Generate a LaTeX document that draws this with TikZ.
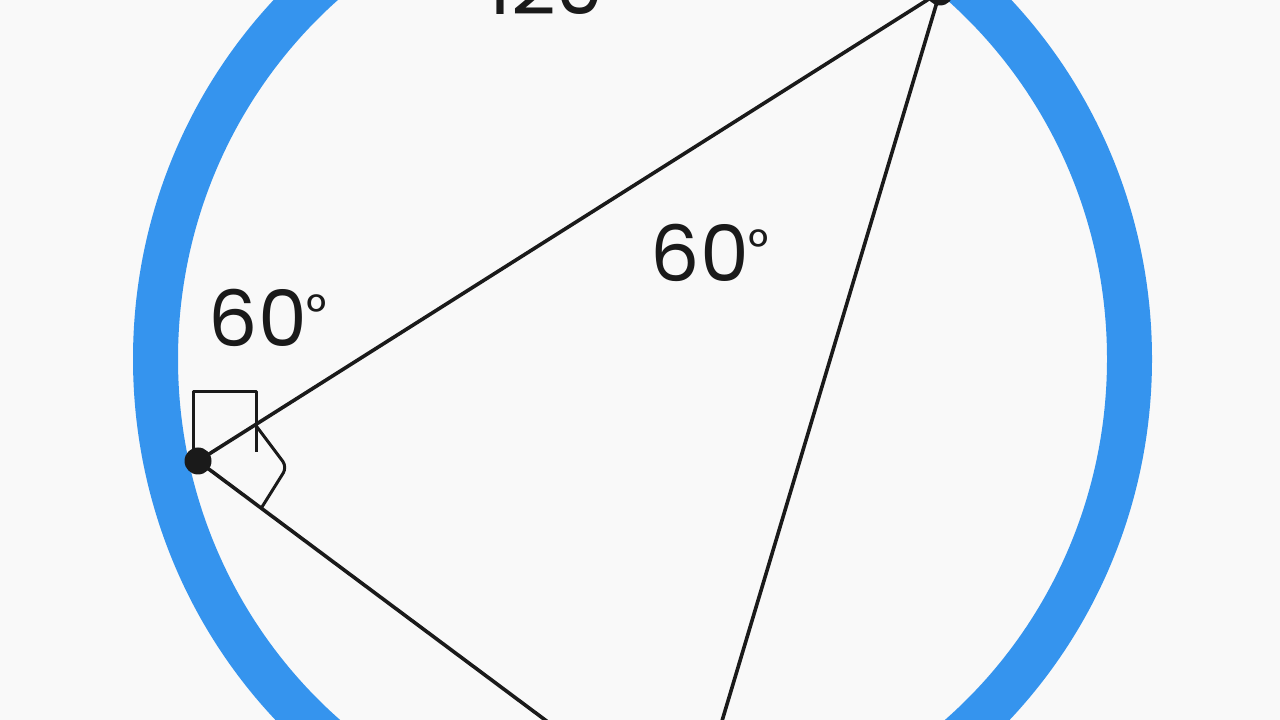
\documentclass[tikz,border=0pt]{standalone}
\usepackage{fontspec}
\setmainfont{Poppins}
\usepackage{tikz}
\usetikzlibrary{positioning}

\definecolor{ringblue}{RGB}{53,148,238}
\definecolor{paper}{RGB}{249,249,249}
\definecolor{ink}{RGB}{26,26,26}
\newcommand{\smalldeg}{\raisebox{17bp}{\fontsize{50}{50}\selectfont °}}

\begin{document}
\begin{tikzpicture}[line join=round,
  chord/.style={ink,line width=3.6bp},
  pt/.style={circle,fill=ink,draw=none,minimum size=27bp,inner sep=0pt},
  angle label/.style={draw=none,inner sep=0pt,font=\fontsize{78}{80}\selectfont,text=ink},
  ]
\useasboundingbox (0bp,0bp) rectangle (1280bp,720bp);
\fill [paper] (0bp,0bp) rectangle (1280bp,720bp);
\clip (0bp,0bp) rectangle (1280bp,720bp);
%%
\draw [ringblue,line width=45bp] (642.5bp,361bp) ellipse [x radius=487bp,y radius=498bp];
  \coordinate (C) at (690bp,-108bp);
  \node (A) at (198bp,259bp) [pt] {};
  \node (B) at (940bp,728bp) [pt] {};
  \node (lblA) at (268bp,402bp) [angle label] {60\smalldeg};
  \node (lblB) at (710bp,467bp) [angle label] {60\smalldeg};
  \node (lblTop) at (486bp,705bp) [angle label,anchor=base west] {120\smalldeg};
  \draw [chord] (A.center) -- (B.center);
  \draw [chord] (A.center) -- (C);
  \draw [chord] (B.center) -- (C);
  \draw [ink,line width=3bp] (193bp,270bp) -- (193bp,328bp) -- (256bp,328bp) -- (256bp,268bp);
  \draw [ink,line width=3bp,rounded corners=7bp] (257bp,293bp) -- (287bp,253bp) -- (262bp,213bp);
%
\end{tikzpicture}
\end{document}
